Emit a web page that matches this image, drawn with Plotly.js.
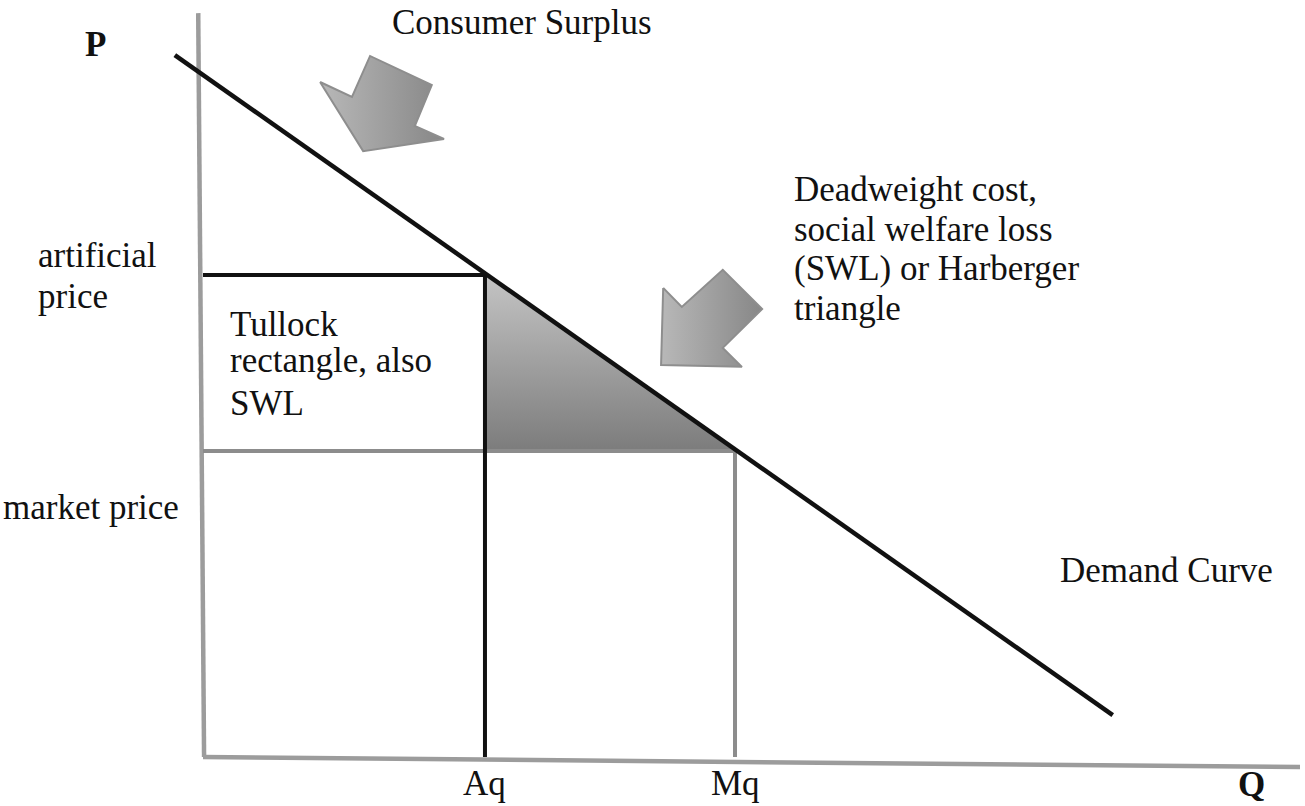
<!DOCTYPE html>
<html>
<head>
<meta charset="utf-8">
<script src="https://cdn.plot.ly/plotly-3.0.1.min.js"></script>
<style>html,body{margin:0;padding:0;background:#fff;}#chart{width:1305px;height:806px;}</style>
</head>
<body>
<div id="chart"></div>
<script>
// Diagram values (quantity Q, price P)
const Aq = 5.30;            // artificial quantity
const Mq = 10.0;            // market quantity
const artificialPrice = 15.75;
const marketPrice = 10.0;
const demandQ = [-0.53, 17.10];
const demandP = [22.94, 1.37];
const pAxisQ = [-0.09, 0.02];
const pAxisP = [24.31, 0.0];
const qAxisQ = [0.0, 20.62];
const qAxisP = [0.0, -0.33];
// block arrows (outline vertices)
const arrowCSQ = [2.20, 2.80, 3.14, 4.30, 3.98, 4.53, 3.01, 2.20];
const arrowCSP = [22.06, 21.57, 22.91, 21.96, 20.62, 20.20, 19.80, 22.06];
const arrowSWLQ = [8.65, 9.00, 9.77, 10.51, 9.77, 10.13, 8.61, 8.65];
const arrowSWLP = [15.33, 14.71, 15.92, 14.64, 13.37, 12.75, 12.81, 15.33];
// tick labels
const tickLabels = ["Aq", "Mq"];
const tickValues = [Aq, Mq];

const SERIF = '"Liberation Serif", "Times New Roman", serif';
const FS = 35;

const traces = [
  // Harberger triangle
  {x: [Aq, Aq, Mq, Aq], y: [artificialPrice, marketPrice, marketPrice, artificialPrice],
   mode: 'lines', fill: 'toself', line: {width: 0, color: 'rgba(0,0,0,0)'},
   fillgradient: {type: 'vertical', colorscale: [[0, '#7c7c7c'], [1, '#c4c4c4']]},
   hoverinfo: 'skip'},
  // arrows
  {x: arrowCSQ, y: arrowCSP, mode: 'lines', fill: 'toself',
   line: {color: '#8e8e8e', width: 2},
   fillgradient: {type: 'horizontal', colorscale: [[0, '#b8b8b8'], [1, '#878787']]},
   hoverinfo: 'skip'},
  {x: arrowSWLQ, y: arrowSWLP, mode: 'lines', fill: 'toself',
   line: {color: '#8e8e8e', width: 2},
   fillgradient: {type: 'horizontal', colorscale: [[0, '#b8b8b8'], [1, '#878787']]},
   hoverinfo: 'skip'},
  // axes (grey)
  {x: pAxisQ, y: pAxisP, mode: 'lines', line: {color: '#9c9c9c', width: 4.5}, hoverinfo: 'skip'},
  {x: qAxisQ, y: qAxisP, mode: 'lines', line: {color: '#9c9c9c', width: 4.5}, hoverinfo: 'skip'},
  // market price / market quantity (grey)
  {x: [0, Mq], y: [marketPrice, marketPrice], mode: 'lines', line: {color: '#8c8c8c', width: 4}, hoverinfo: 'skip'},
  {x: [Mq, Mq], y: [marketPrice, 0], mode: 'lines', line: {color: '#8c8c8c', width: 4}, hoverinfo: 'skip'},
  // artificial price / quantity (black)
  {x: [0, Aq], y: [artificialPrice, artificialPrice], mode: 'lines', line: {color: '#111111', width: 4}, hoverinfo: 'skip'},
  {x: [Aq, Aq], y: [artificialPrice, 0], mode: 'lines', line: {color: '#111111', width: 4}, hoverinfo: 'skip'},
  // demand curve
  {x: demandQ, y: demandP, mode: 'lines', line: {color: '#111111', width: 4.5}, hoverinfo: 'skip'}
];

function ann(text, x, y, xanchor, extra) {
  return Object.assign({text: text, x: x, y: y, xref: 'x', yref: 'y', xanchor: xanchor, yanchor: 'middle',
    showarrow: false, font: {family: SERIF, size: FS, color: '#111111'}}, extra || {});
}

const annotations = [
  ann('<b>P</b>', -2.03, 23.3, 'center'),
  ann('Consumer Surplus', 6.0, 24.0, 'center'),
  ann('artificial', -3.14, 16.4, 'left'),
  ann('price', -3.14, 15.05, 'left'),
  ann('Tullock', 0.47, 14.15, 'left'),
  ann('rectangle, also', 0.47, 12.95, 'left'),
  ann('SWL', 0.47, 11.55, 'left'),
  ann('market price', -3.80, 8.15, 'left'),
  ann('Deadweight cost,', 11.07, 18.55, 'left'),
  ann('social welfare loss', 11.07, 17.25, 'left'),
  ann('(SWL) or Harberger', 11.07, 15.95, 'left'),
  ann('triangle', 11.07, 14.65, 'left'),
  ann('Demand Curve', 16.08, 6.1, 'left'),
  ann(tickLabels[0], tickValues[0], -0.85, 'center'),
  ann(tickLabels[1], tickValues[1], -0.85, 'center'),
  ann('<b>Q</b>', 19.7, -0.9, 'center')
];

const layout = {
  width: 1305, height: 806,
  margin: {l: 0, r: 0, t: 0, b: 0},
  paper_bgcolor: '#ffffff', plot_bgcolor: '#ffffff',
  showlegend: false,
  xaxis: {range: [-3.816, 20.714], visible: false, fixedrange: true},
  yaxis: {range: [-1.601, 24.739], visible: false, fixedrange: true},
  annotations: annotations
};

Plotly.newPlot('chart', traces, layout, {staticPlot: true, displayModeBar: false});
</script>
</body>
</html>
